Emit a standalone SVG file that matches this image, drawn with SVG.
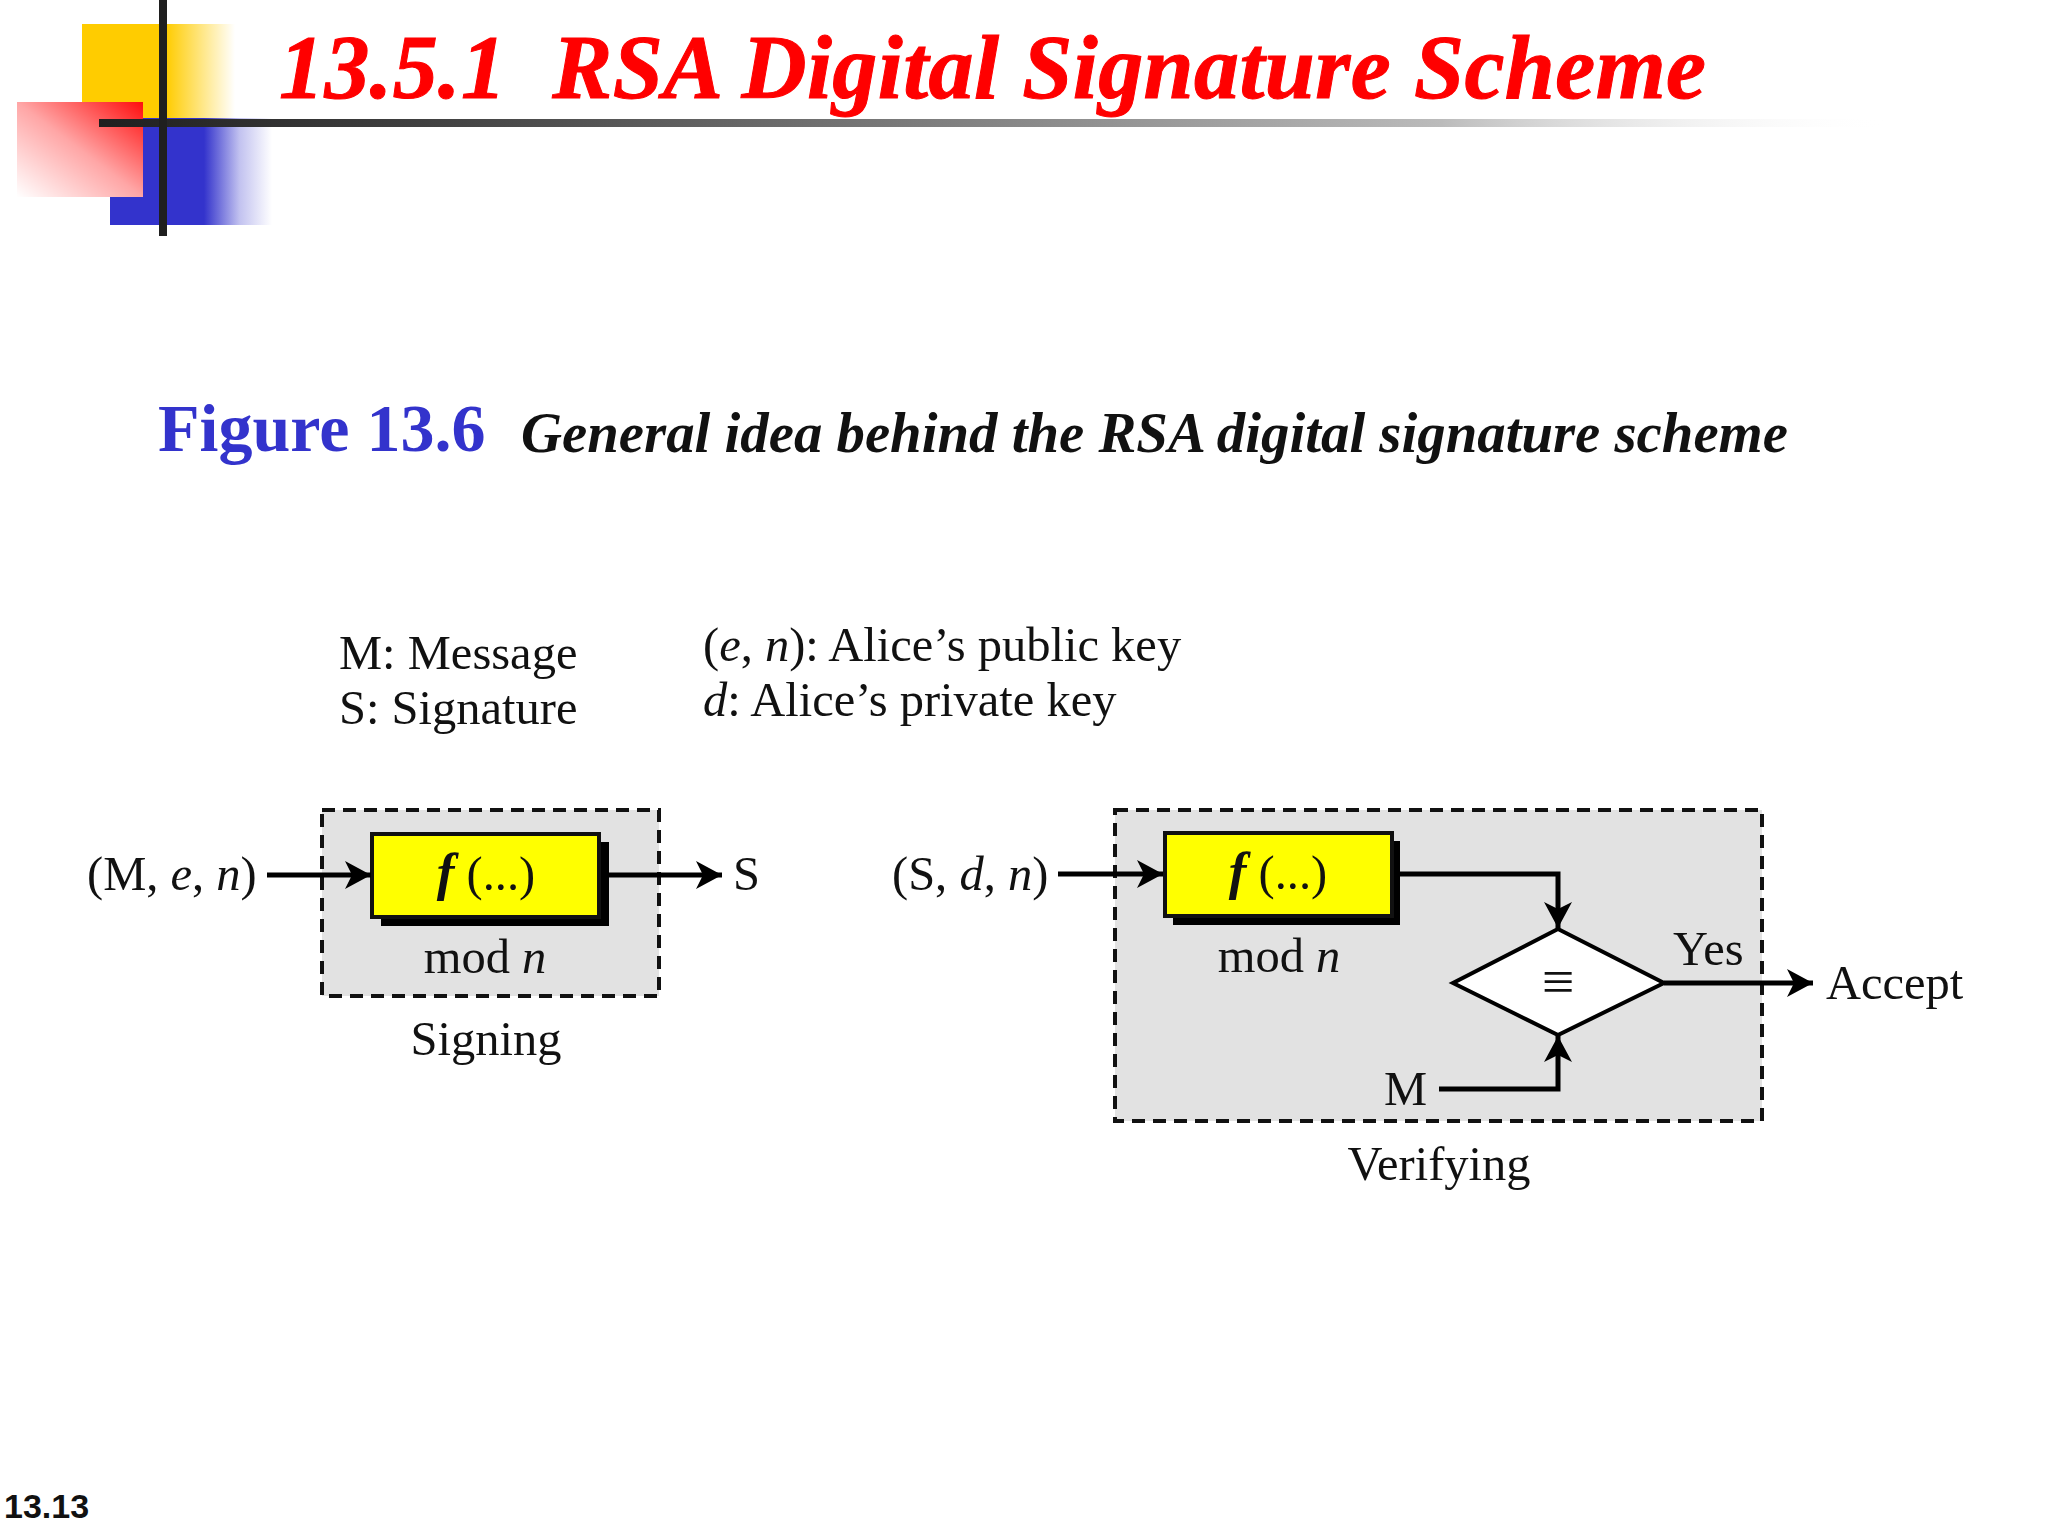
<svg xmlns="http://www.w3.org/2000/svg" width="2048" height="1536" viewBox="0 0 2048 1536">
<style>
.s{font-family:"Liberation Serif","Times New Roman",serif;fill:#111}
.t{font-size:48.5px}
.c{text-anchor:middle}
.i{font-style:italic}
.bi{font-style:italic;font-weight:bold}
.f{font-size:53px}
.box{fill:#e2e2e2;stroke:#111;stroke-width:4;stroke-dasharray:13 8}
.fn{fill:#ffff00;stroke:#111;stroke-width:4}
.w{fill:none;stroke:#000;stroke-width:5}
</style>
<defs>
<linearGradient id="gy" x1="0" x2="1" y1="0" y2="0"><stop offset="0" stop-color="#ffcc00"/><stop offset="0.55" stop-color="#ffcc00"/><stop offset="1" stop-color="#ffcc00" stop-opacity="0"/></linearGradient>
<linearGradient id="gb" x1="0" x2="1" y1="0" y2="0"><stop offset="0" stop-color="#3333cc"/><stop offset="0.58" stop-color="#3333cc"/><stop offset="0.8" stop-color="#3333cc" stop-opacity="0.3"/><stop offset="1" stop-color="#3333cc" stop-opacity="0"/></linearGradient>
<linearGradient id="gr" x1="1" x2="0" y1="0" y2="1"><stop offset="0" stop-color="#ff0000" stop-opacity="0.95"/><stop offset="0.5" stop-color="#ff0000" stop-opacity="0.35"/><stop offset="1" stop-color="#ff0000" stop-opacity="0"/></linearGradient>
<linearGradient id="gl" x1="0" x2="1" y1="0" y2="0"><stop offset="0" stop-color="#1f1f1f"/><stop offset="0.2" stop-color="#444"/><stop offset="0.75" stop-color="#bbb"/><stop offset="1" stop-color="#fff" stop-opacity="0"/></linearGradient>
<marker id="a" markerUnits="userSpaceOnUse" markerWidth="28" markerHeight="30" refX="26" refY="15" orient="auto"><path d="M0 1L26 15L0 29L7 15Z" fill="#000"/></marker>
</defs>
<g id="decor">
<rect x="82" y="24" width="153" height="96" fill="url(#gy)"/>
<rect x="110" y="118" width="162" height="107" fill="url(#gb)"/>
<rect x="17" y="102" width="126" height="95" fill="#fff"/>
<rect x="17" y="102" width="126" height="95" fill="url(#gr)"/>
<rect x="99" y="119" width="1790" height="8" fill="url(#gl)"/>
<rect x="159" y="0" width="8" height="236" fill="#1f1f1f"/>
</g>
<text id="title" class="s bi" x="279" y="98" font-size="90" style="fill:#ff0000;stroke:#ff0000;stroke-width:1;white-space:pre" textLength="1427">13.5.1  RSA Digital Signature Scheme</text>
<text id="figure" class="s" x="158" y="451" font-size="68" font-weight="bold" style="fill:#3333cc">Figure 13.6</text>
<text id="caption" class="s bi" x="521" y="452" font-size="56.8">General idea behind the RSA digital signature scheme</text>
<g id="legend">
<text class="s t" x="339" y="669">M: Message</text>
<text class="s t" x="339" y="724">S: Signature</text>
<text class="s t" x="703" y="661">(<tspan class="i">e</tspan>, <tspan class="i">n</tspan>): Alice’s public key</text>
<text class="s t" x="703" y="716"><tspan class="i">d</tspan>: Alice’s private key</text>
</g>
<g id="signing">
<rect class="box" x="322" y="810" width="337" height="186"/>
<rect x="381" y="842" width="228" height="84" fill="#000"/>
<rect class="fn" x="372" y="834" width="227" height="83"/>
<text class="s t c" x="486" y="890"><tspan class="bi f">f</tspan> (...)</text>
<text class="s t c" x="485" y="973">mod <tspan class="i">n</tspan></text>
<text class="s t c" x="486" y="1055">Signing</text>
</g>
<g id="verifying">
<rect class="box" x="1115" y="810" width="647" height="311"/>
<rect x="1173" y="841" width="227" height="84" fill="#000"/>
<rect class="fn" x="1165" y="833" width="227" height="83"/>
<text class="s t c" x="1278" y="889"><tspan class="bi f">f</tspan> (...)</text>
<text class="s t c" x="1279" y="972">mod <tspan class="i">n</tspan></text>
<text class="s t c" x="1439" y="1180">Verifying</text>
</g>
<g id="equal">
<path d="M1558 929L1664 983L1558 1035L1453 983Z" fill="#fff" stroke="#000" stroke-width="4"/>
<text class="s c" x="1558" y="1001" font-size="58">≡</text>
</g>
<g id="connectors">
<path class="w" d="M267 875H371" marker-end="url(#a)"/>
<path class="w" d="M609 875H722" marker-end="url(#a)"/>
<path class="w" d="M1058 874H1163" marker-end="url(#a)"/>
<path class="w" d="M1400 874H1558V928" marker-end="url(#a)"/>
<path class="w" d="M1439 1089H1558V1036" marker-end="url(#a)"/>
<path class="w" d="M1664 983H1813" marker-end="url(#a)"/>
</g>
<g id="labels">
<text class="s t" x="87" y="890">(M, <tspan class="i">e</tspan>, <tspan class="i">n</tspan>)</text>
<text class="s t" x="733" y="890">S</text>
<text class="s t" x="892" y="890">(S, <tspan class="i">d</tspan>, <tspan class="i">n</tspan>)</text>
<text class="s t" x="1384" y="1105">M</text>
<text class="s t" x="1673" y="965">Yes</text>
<text class="s t" x="1826" y="999">Accept</text>
</g>
<text id="page" x="4" y="1518" font-family="Liberation Sans, Arial, sans-serif" font-weight="bold" font-size="34" fill="#111">13.13</text>
</svg>
